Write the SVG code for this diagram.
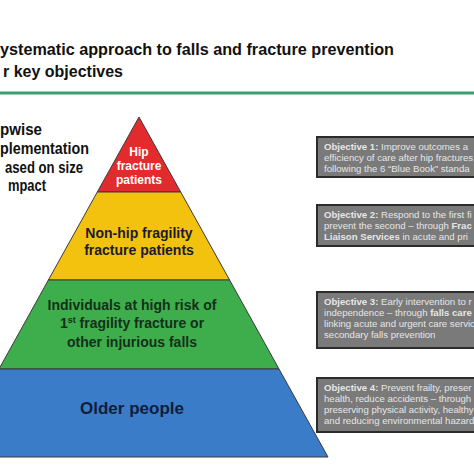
<svg xmlns="http://www.w3.org/2000/svg" width="474" height="474" viewBox="0 0 474 474">
<style>
.title{font-family:"Liberation Sans",Arial,sans-serif;font-weight:bold;font-size:17px;fill:#111}
.side{font-family:"Liberation Sans",Arial,sans-serif;font-weight:bold;font-size:16px;fill:#111}
.layer{stroke:#3a3a3a;stroke-width:1}
.pt{font-family:"Liberation Sans",Arial,sans-serif;font-weight:bold;text-anchor:middle}
.box{fill:#7a7a7a;stroke:#2b2b2b;stroke-width:2}
.bt{font-family:"Liberation Sans",Arial,sans-serif;font-size:9.6px;fill:#e6e6e6}
.b{font-weight:bold}
</style>
<rect width="474" height="474" fill="#ffffff"/>
<g id="title">
<text class="title" x="0" y="55" textLength="394" lengthAdjust="spacingAndGlyphs">ystematic approach to falls and fracture prevention</text>
<text class="title" x="3" y="77" textLength="120" lengthAdjust="spacingAndGlyphs">r key objectives</text>
<line x1="0" y1="93" x2="474" y2="93" stroke="#3f9b70" stroke-width="3"/>
</g>
<g id="side-label">
<text class="side" x="0" y="135" textLength="42" lengthAdjust="spacingAndGlyphs">pwise</text>
<text class="side" x="0" y="154" textLength="89" lengthAdjust="spacingAndGlyphs">plementation</text>
<text class="side" x="5" y="173" textLength="78" lengthAdjust="spacingAndGlyphs">ased on size</text>
<text class="side" x="8" y="191" textLength="38" lengthAdjust="spacingAndGlyphs">mpact</text>
</g>
<g id="layer-hip">
<polygon class="layer" points="139,117 180.7,192 97.3,192" fill="#e32a2c"/>
<text class="pt" font-size="12" fill="#ffffff" x="139" y="156">Hip</text>
<text class="pt" font-size="12" fill="#ffffff" x="139" y="170">fracture</text>
<text class="pt" font-size="12" fill="#ffffff" x="139" y="184">patients</text>
</g>
<g id="layer-nonhip">
<polygon class="layer" points="97.3,192 180.7,192 229.6,280 48.4,280" fill="#f3c20f"/>
<text class="pt" font-size="14" fill="#1d1a2e" x="139" y="238">Non-hip fragility</text>
<text class="pt" font-size="14" fill="#1d1a2e" x="139" y="255">fracture patients</text>
</g>
<g id="layer-risk">
<polygon class="layer" points="48.4,280 229.6,280 279,369 -1,369" fill="#3dae4b"/>
<text class="pt" font-size="14" fill="#15301a" x="132" y="310">Individuals at high risk of</text>
<text class="pt" font-size="14" fill="#15301a" x="132" y="328">1<tspan font-size="9" dy="-5">st</tspan><tspan dy="5"> fragility fracture or</tspan></text>
<text class="pt" font-size="14" fill="#15301a" x="132" y="347">other injurious falls</text>
</g>
<g id="layer-older">
<polygon class="layer" points="-1,369 279,369 328,457 -50,457" fill="#3a7cc8"/>
<text class="pt" font-size="17" fill="#0f1e3c" x="132" y="414">Older people</text>
</g>
<g id="objective-1">
<rect class="box" x="317" y="137" width="170" height="40"/>
<text class="bt" x="324" y="150"><tspan class="b">Objective 1:</tspan>  Improve outcomes a</text>
<text class="bt" x="324" y="161">efficiency of care after hip fractures</text>
<text class="bt" x="324" y="172">following the 6 “Blue Book” standa</text>
</g>
<g id="objective-2">
<rect class="box" x="317" y="205" width="170" height="41"/>
<text class="bt" x="324" y="218"><tspan class="b">Objective 2:</tspan>  Respond to the first fi</text>
<text class="bt" x="324" y="229">prevent the second – through  <tspan class="b">Frac</tspan></text>
<text class="bt" x="324" y="240"><tspan class="b">Liaison Services</tspan>    in acute and pri</text>
</g>
<g id="objective-3">
<rect class="box" x="317" y="292" width="170" height="56"/>
<text class="bt" x="324" y="305"><tspan class="b">Objective 3:</tspan>  Early intervention to r</text>
<text class="bt" x="324" y="316">independence – through  <tspan class="b">falls care</tspan></text>
<text class="bt" x="324" y="327">linking acute and urgent care servic</text>
<text class="bt" x="324" y="338">secondary falls prevention</text>
</g>
<g id="objective-4">
<rect class="box" x="317" y="378" width="170" height="54"/>
<text class="bt" x="324" y="391"><tspan class="b">Objective 4:</tspan>  Prevent frailty, preser</text>
<text class="bt" x="324" y="402">health, reduce accidents – through</text>
<text class="bt" x="324" y="413">preserving physical activity, healthy</text>
<text class="bt" x="324" y="424">and reducing environmental hazard</text>
</g>
<g id="connectors"></g>
</svg>
